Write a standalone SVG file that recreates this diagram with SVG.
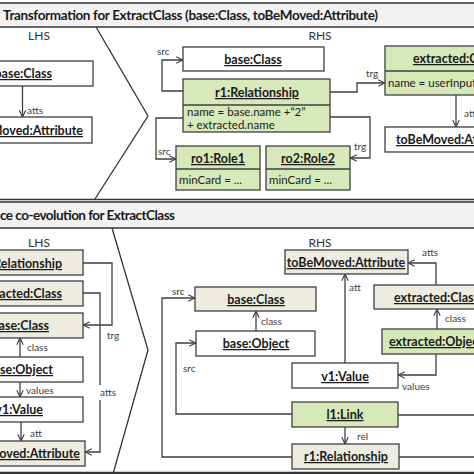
<svg xmlns="http://www.w3.org/2000/svg" width="474" height="474" viewBox="0 0 474 474">
<defs>
<marker id="arr" viewBox="0 0 10 10" refX="9.5" refY="5" markerWidth="8" markerHeight="8" orient="auto" markerUnits="userSpaceOnUse">
<path d="M1,1 L9.5,5 L1,9" fill="none" stroke="#3a3a3a" stroke-width="1.4"/>
</marker>
<style>
.bar{fill:#f2f2f2;stroke:#333;stroke-width:1.5}
.frame{fill:none;stroke:#333;stroke-width:1.3}
.box{stroke:#3f3f3f;stroke-width:1.3}
.w{fill:#ffffff}
.g{fill:#d7e9b9}
.b{fill:#eeece1}
.con{fill:none;stroke:#3f3f3f;stroke-width:1.3}
.arr{marker-end:url(#arr)}
text{font-family:Lato,"Open Sans","Liberation Sans",sans-serif;fill:#1a1a1a}
.title{font-size:13.5px;font-weight:bold}
.side{font-size:12px;fill:#333}
.n{font-size:12.5px;font-weight:bold;text-decoration:underline}
.c{text-anchor:middle}
.e{text-anchor:end}
.at{font-size:11.5px}
.lb{font-size:10px;fill:#404040}
</style>
</defs>

<!-- top panel frame -->
<g id="top-frame">
<rect class="bar" x="-2" y="3" width="478" height="24"/>
<text class="title" x="3" y="19.5" textLength="375">Transformation for ExtractClass (base:Class, toBeMoved:Attribute)</text>
<line class="frame" x1="0" y1="199.5" x2="474" y2="199.5"/>
<path class="frame" d="M96,27 L148,116 L95,199"/>
<text class="side c" x="39" y="40">LHS</text>
<text class="side c" x="320" y="40">RHS</text>
</g>

<!-- bottom panel frame -->
<g id="bottom-frame">
<rect class="bar" x="-2" y="202" width="478" height="26"/>
<text class="title" x="0" y="220" textLength="175">ce co-evolution for ExtractClass</text>
<path class="frame" d="M112,228 L148,350 L113,474"/>
<line x1="0" y1="473" x2="474" y2="473" stroke="#333" stroke-width="2.5"/>
<text class="side c" x="39" y="247">LHS</text>
<text class="side c" x="320" y="247">RHS</text>
</g>

<!-- connectors -->
<g id="connectors">
<!-- top LHS -->
<path class="con arr" d="M22.5,86 V117"/>
<text class="lb" x="27" y="114">atts</text>
<!-- top RHS -->
<path class="con arr" d="M183,91 H162 V60 H183"/>
<text class="lb" x="157" y="55">src</text>
<path class="con arr" d="M330,92 H357 V83 H385"/>
<text class="lb" x="366" y="77">trg</text>
<path class="con arr" d="M456,95 V127"/>
<text class="lb" x="464" y="117">atts</text>
<path class="con arr" d="M183,118 H156 V159 H176"/>
<text class="lb" x="158" y="155">src</text>
<path class="con arr" d="M330,117 H370 V158 H350"/>
<text class="lb" x="354" y="150">trg</text>
<!-- bottom LHS -->
<path class="con arr" d="M83,263 H112 V325 H83"/>
<text class="lb" x="107" y="339">trg</text>
<path class="con arr" d="M83,293 H100 V385 M100,400 V452 H85"/>
<text class="lb" x="100" y="396">atts</text>
<path class="con arr" d="M20,357 V338"/>
<text class="lb" x="27" y="351">class</text>
<path class="con arr" d="M20,382 V397"/>
<text class="lb" x="26" y="394">values</text>
<path class="con arr" d="M21,422 V441"/>
<text class="lb" x="30" y="437">att</text>
<!-- bottom RHS -->
<path class="con arr" d="M436,285 V263 H408"/>
<text class="lb" x="422" y="256">atts</text>
<path class="con arr" d="M437,329 V309"/>
<text class="lb" x="445" y="322">class</text>
<path class="con arr" d="M436,354 V375 H398"/>
<text class="lb" x="402" y="390">values</text>
<path class="con arr" d="M345,363 V274"/>
<text class="lb" x="349" y="291">att</text>
<path class="con arr" d="M256,331 V311"/>
<text class="lb" x="261" y="325">class</text>
<path class="con arr" d="M292,414 H176 V343 H196"/>
<text class="lb" x="183" y="372">src</text>
<path class="con arr" d="M292,457 H162 V298 H195"/>
<text class="lb" x="172" y="295">src</text>
<path class="con" d="M398,415 H476"/>
<path class="con arr" d="M345,427 V444"/>
<text class="lb" x="357" y="440">rel</text>
<path class="con" d="M399,457 H476"/>
</g>

<!-- top LHS nodes -->
<g id="t-lhs-base">
<rect class="box w" x="-50" y="61" width="143" height="25"/>
<text class="n e" x="52" y="78">base:Class</text>
</g>
<g id="t-lhs-tobemoved">
<rect class="box w" x="-60" y="117" width="152" height="26"/>
<text class="n e" x="83" y="135">toBeMoved:Attribute</text>
</g>

<!-- top RHS nodes -->
<g id="t-rhs-base">
<rect class="box w" x="183" y="47" width="141" height="24"/>
<text class="n c" x="253" y="64">base:Class</text>
</g>
<g id="t-rhs-r1">
<rect class="box g" x="183" y="79" width="147" height="53"/>
<line class="box" x1="183" y1="105" x2="330" y2="105"/>
<text class="n c" x="257" y="97">r1:Relationship</text>
<text class="at" x="187" y="115.5">name = base.name +“2”</text>
<text class="at" x="187" y="129">+ extracted.name</text>
</g>
<g id="t-rhs-extracted">
<rect class="box g" x="385" y="46" width="146" height="49"/>
<line class="box" x1="385" y1="71" x2="531" y2="71"/>
<text class="n" x="413" y="63">extracted:Class</text>
<text class="at" x="388" y="87">name = userInput</text>
</g>
<g id="t-rhs-tobemoved">
<rect class="box w" x="385" y="127" width="150" height="25"/>
<text class="n" x="396" y="144">toBeMoved:Attribute</text>
</g>
<g id="t-rhs-ro1">
<rect class="box g" x="176" y="146" width="84" height="44"/>
<line class="box" x1="176" y1="169" x2="260" y2="169"/>
<text class="n c" x="218" y="163">ro1:Role1</text>
<text class="at" x="179" y="184">minCard = ...</text>
</g>
<g id="t-rhs-ro2">
<rect class="box g" x="266" y="146" width="84" height="44"/>
<line class="box" x1="266" y1="169" x2="350" y2="169"/>
<text class="n c" x="308" y="163">ro2:Role2</text>
<text class="at" x="269" y="184">minCard = ...</text>
</g>

<!-- bottom LHS nodes -->
<g id="b-lhs-r1">
<rect class="box b" x="-60" y="250" width="143" height="25"/>
<text class="n e" x="62" y="268">r1:Relationship</text>
</g>
<g id="b-lhs-extracted">
<rect class="box b" x="-60" y="281" width="143" height="25"/>
<text class="n e" x="62" y="298">extracted:Class</text>
</g>
<g id="b-lhs-base">
<rect class="box b" x="-60" y="313" width="143" height="25"/>
<text class="n e" x="49" y="330">base:Class</text>
</g>
<g id="b-lhs-baseobj">
<rect class="box w" x="-60" y="357" width="143" height="25"/>
<text class="n e" x="53" y="374">base:Object</text>
</g>
<g id="b-lhs-v1">
<rect class="box w" x="-60" y="397" width="143" height="25"/>
<text class="n e" x="43" y="414">v1:Value</text>
</g>
<g id="b-lhs-tobemoved">
<rect class="box b" x="-60" y="441" width="145" height="25"/>
<text class="n e" x="80" y="458">toBeMoved:Attribute</text>
</g>

<!-- bottom RHS nodes -->
<g id="b-rhs-tobemoved">
<rect class="box b" x="285" y="250" width="123" height="24"/>
<text class="n c" x="346" y="267">toBeMoved:Attribute</text>
</g>
<g id="b-rhs-extracted">
<rect class="box b" x="374" y="285" width="150" height="24"/>
<text class="n" x="394" y="302">extracted:Class</text>
</g>
<g id="b-rhs-extractedobj">
<rect class="box g" x="382" y="329" width="150" height="25"/>
<text class="n" x="389" y="346">extracted:Object</text>
</g>
<g id="b-rhs-base">
<rect class="box b" x="195" y="287" width="121" height="24"/>
<text class="n c" x="256" y="304">base:Class</text>
</g>
<g id="b-rhs-baseobj">
<rect class="box w" x="196" y="331" width="119" height="25"/>
<text class="n c" x="256" y="348">base:Object</text>
</g>
<g id="b-rhs-v1">
<rect class="box w" x="292" y="363" width="106" height="25"/>
<text class="n c" x="345" y="381">v1:Value</text>
</g>
<g id="b-rhs-l1">
<rect class="box g" x="292" y="402" width="106" height="25"/>
<text class="n c" x="345" y="419">l1:Link</text>
</g>
<g id="b-rhs-r1">
<rect class="box b" x="292" y="444" width="107" height="25"/>
<text class="n c" x="346" y="461">r1:Relationship</text>
</g>
</svg>
